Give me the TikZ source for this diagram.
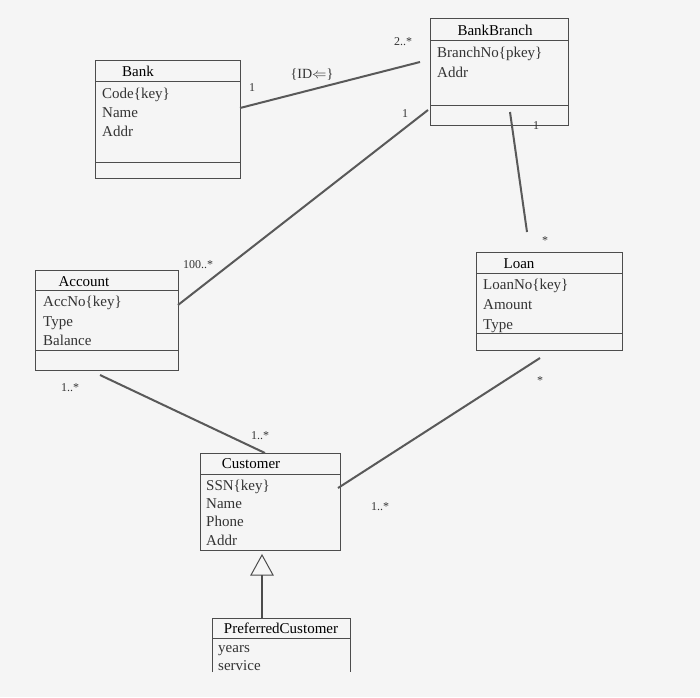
\documentclass[tikz,border=0pt]{standalone}
\usepackage{fontspec}
\setmainfont{Liberation Serif}
\usepackage{amssymb}
\begin{document}
\begin{tikzpicture}[x=1pt,y=-1pt,font=\fontsize{15}{17}\selectfont,
  box/.style={draw=black!70,line width=0.6pt},
  link/.style={draw=black!65,line width=2pt},
  txt/.style={anchor=base west,inner sep=0pt,text=black!80},
  lbl/.style={inner sep=0pt,text=black!80,font=\fontsize{12}{14}\selectfont}]
\useasboundingbox[fill=black!4] (0,0) rectangle (700,697);
% Bank
\draw[box] (95,60) rectangle (240,178);
\draw[box] (95,81) -- (240,81) (95,162) -- (240,162);
\node[inner sep=0pt] (bank) at (138,71) {Bank};
\node[txt] at (102,98) {Code\{key\}};
\node[txt] at (102,117) {Name};
\node[txt] at (102,136) {Addr};
% BankBranch
\draw[box] (430,18) rectangle (568,125);
\draw[box] (430,40) -- (568,40) (430,105) -- (568,105);
\node[inner sep=0pt] (branch) at (495,30) {BankBranch};
\node[txt] at (437,57) {BranchNo\{pkey\}};
\node[txt] at (437,77) {Addr};
% Account
\draw[box] (35,270) rectangle (178,370);
\draw[box] (35,290) -- (178,290) (35,350) -- (178,350);
\node[inner sep=0pt] (account) at (84,282) {Account};
\node[txt] at (43,306) {AccNo\{key\}};
\node[txt] at (43,326) {Type};
\node[txt] at (43,345) {Balance};
% Loan
\draw[box] (476,252) rectangle (622,350);
\draw[box] (476,273) -- (622,273) (476,333) -- (622,333);
\node[inner sep=0pt] (loan) at (519,264) {Loan};
\node[txt] at (483,289) {LoanNo\{key\}};
\node[txt] at (483,309) {Amount};
\node[txt] at (483,329) {Type};
% Customer
\draw[box] (200,453) rectangle (340,550);
\draw[box] (200,474) -- (340,474);
\node[inner sep=0pt] (customer) at (251,464) {Customer};
\node[txt] at (206,490) {SSN\{key\}};
\node[txt] at (206,508) {Name};
\node[txt] at (206,526) {Phone};
\node[txt] at (206,545) {Addr};
% PreferredCustomer
\draw[box] (212,672) -- (212,618) -- (350,618) -- (350,672);
\draw[box] (212,638) -- (350,638);
\node[inner sep=0pt] (preferred) at (281,628) {PreferredCustomer};
\node[txt] at (218,652) {years};
\node[txt] at (218,670) {service};
% inheritance
\draw[box,line width=1pt] (262,555) -- (251,575) -- (273,575) -- cycle;
\draw[box,line width=1.5pt] (262,575) -- (262,618);
% connectors
\coordinate (bankR) at (240,108);
\coordinate (branchL) at (420,62);
\coordinate (branchB) at (428,110);
\coordinate (accountR) at (178,305);
\coordinate (branchD) at (510,112);
\coordinate (loanT) at (527,232);
\coordinate (accountB) at (100,375);
\coordinate (customerT) at (265,453);
\coordinate (loanB) at (540,358);
\coordinate (customerR) at (338,488);
\draw[link] (bankR) -- (branchL);
\draw[link] (branchB) -- (accountR);
\draw[link] (branchD) -- (loanT);
\draw[link] (accountB) -- (customerT);
\draw[link] (loanB) -- (customerR);
% multiplicities
\node[lbl] at (252,88) {1};
\node[lbl,font=\fontsize{14}{16}\selectfont] at (312,75) {\{ID$\Leftarrow$\}};
\node[lbl] at (403,42) {2..*};
\node[lbl] at (405,114) {1};
\node[lbl] at (198,265) {100..*};
\node[lbl] at (536,126) {1};
\node[lbl] at (545,241) {*};
\node[lbl] at (70,388) {1..*};
\node[lbl] at (260,436) {1..*};
\node[lbl] at (540,381) {*};
\node[lbl] at (380,507) {1..*};
\end{tikzpicture}
\end{document}
